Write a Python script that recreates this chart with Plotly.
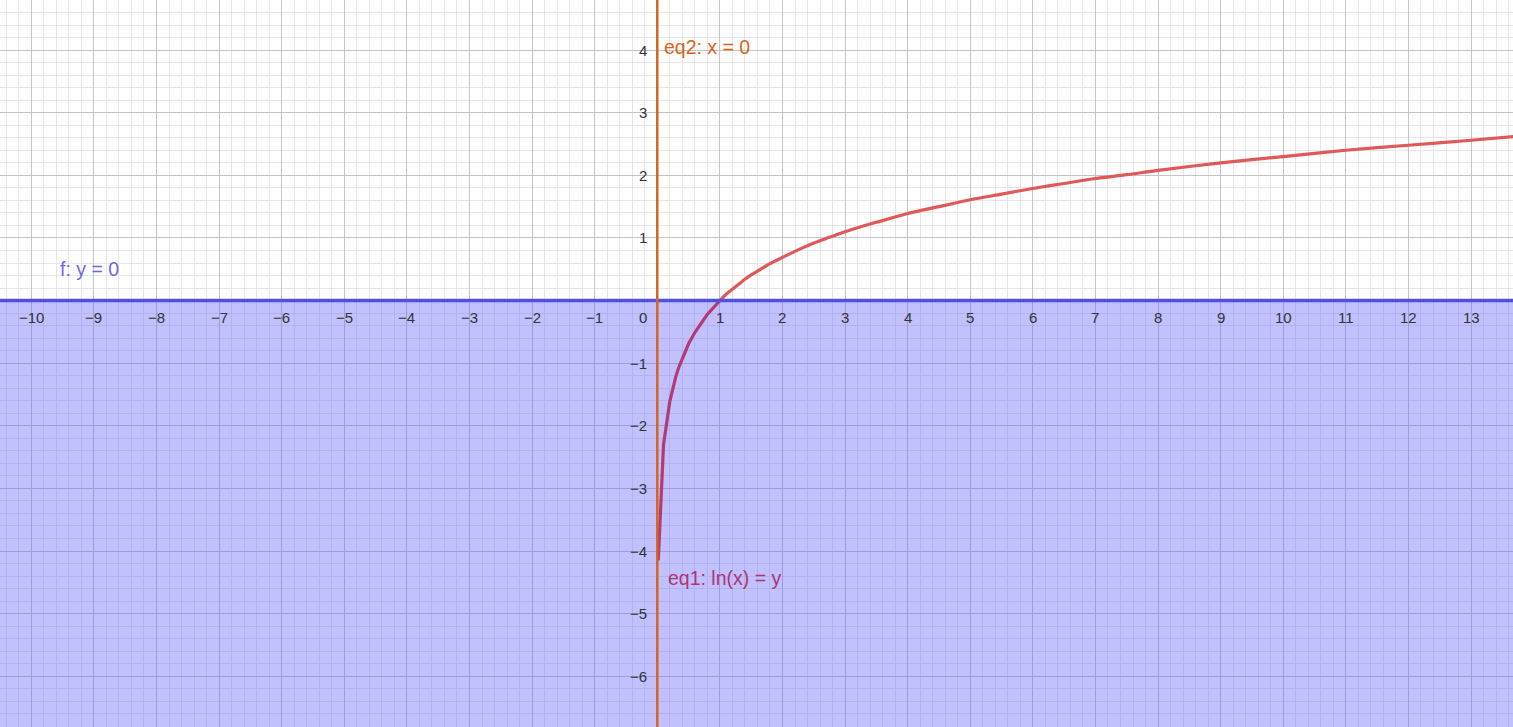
"""
ln(x) = y together with x = 0 and the shaded inequality y < 0, drawn like a GeoGebra graphics view.
"""
import plotly.graph_objects as go

# view window (data units)
X_MIN, X_MAX = -10.5, 13.67
Y_MIN, Y_MAX = -6.81, 4.8

# eq1: ln(x) = y
curve_x = [0.0158, 0.1, 0.2, 0.25, 0.3, 0.35, 0.4, 0.45, 0.5, 0.6, 0.7, 0.8, 0.9, 1.0,
           1.1, 1.2, 1.3, 1.4, 1.5, 1.6, 1.8, 2.0, 2.25, 2.5, 2.75, 3.0, 3.25, 3.5, 4.0,
           4.5, 5.0, 5.5, 6.0, 6.5, 7.0, 7.5, 8.0, 9.0, 10.0, 11.0, 12.0, 13.0, 13.7]
curve_y = [-4.15, -2.30, -1.61, -1.39, -1.20, -1.05, -0.92, -0.80, -0.69, -0.51, -0.36, -0.22, -0.11, 0.0,
           0.10, 0.18, 0.26, 0.34, 0.41, 0.47, 0.59, 0.69, 0.81, 0.92, 1.01, 1.10, 1.18, 1.25, 1.39,
           1.50, 1.61, 1.70, 1.79, 1.87, 1.95, 2.01, 2.08, 2.20, 2.30, 2.40, 2.48, 2.56, 2.62]

# axis tick labels
x_ticks = [-10, -9, -8, -7, -6, -5, -4, -3, -2, -1, 1, 2, 3, 4, 5, 6, 7, 8, 9, 10, 11, 12, 13]
y_ticks = [-6, -5, -4, -3, -2, -1, 1, 2, 3, 4]
x_tick_labels = [str(v).replace("-", "\u2212") for v in x_ticks]
y_tick_labels = [str(v).replace("-", "\u2212") for v in y_ticks]

# object labels
labels = ["f: y = 0", "eq2: x = 0", "eq1: ln(x) = y"]
label_x = [-9.58, 0.08, 0.14]
label_y = [0.50, 4.05, -4.43]
label_colors = ["rgb(110,106,222)", "rgb(214,100,30)", "rgb(176,52,114)"]

BLUE = "rgb(80,80,228)"
ORANGE = "rgb(214,100,30)"
RED = "rgb(224,88,88)"
MAGENTA = "rgb(180,58,118)"

FONT = "Liberation Sans, Arial, sans-serif"

fig = go.Figure()

# f: y < 0 region
fig.add_trace(go.Scatter(x=[X_MIN - 1, X_MAX + 1, X_MAX + 1, X_MIN - 1],
                         y=[0, 0, Y_MIN - 1, Y_MIN - 1],
                         fill="toself", fillcolor="rgba(100,100,255,0.4)",
                         mode="lines", line=dict(width=0), hoverinfo="skip"))

# eq1, split where it crosses y = 0 (x = 1)
split = curve_x.index(1.0)
fig.add_trace(go.Scatter(x=curve_x[:split + 1], y=curve_y[:split + 1], mode="lines",
                         line=dict(color=MAGENTA, width=3.2), hoverinfo="skip"))
fig.add_trace(go.Scatter(x=curve_x[split:], y=curve_y[split:], mode="lines",
                         line=dict(color=RED, width=3.2, shape="spline", smoothing=0.8),
                         hoverinfo="skip"))

# f: y = 0 boundary
fig.add_trace(go.Scatter(x=[X_MIN - 1, X_MAX + 1], y=[0, 0], mode="lines",
                         line=dict(color=BLUE, width=3.5), hoverinfo="skip"))

# eq2: x = 0
fig.add_trace(go.Scatter(x=[0, 0], y=[Y_MIN - 1, Y_MAX + 1], mode="lines",
                         line=dict(color=ORANGE, width=2.5), hoverinfo="skip"))

tick_font = dict(family=FONT, size=15, color="#333333")
for v, t in zip(x_ticks, x_tick_labels):
    fig.add_annotation(x=v, y=0, text=t, showarrow=False, xanchor="center",
                       yanchor="middle", yshift=-17, font=tick_font)
for v, t in zip(y_ticks, y_tick_labels):
    fig.add_annotation(x=0, y=v, text=t, showarrow=False, xanchor="right",
                       yanchor="middle", xshift=-8, font=tick_font)
fig.add_annotation(x=0, y=0, text="0", showarrow=False, xanchor="right",
                   yanchor="middle", xshift=-8, yshift=-17, font=tick_font)

for t, lx, ly, c in zip(labels, label_x, label_y, label_colors):
    fig.add_annotation(x=lx, y=ly, text=t, showarrow=False, xanchor="left",
                       yanchor="middle", font=dict(family=FONT, size=19.5, color=c))

axis_common = dict(
    showticklabels=False, ticks="", zeroline=False, showline=False,
    dtick=1, tick0=0, showgrid=True, gridcolor="rgb(196,196,196)", gridwidth=1,
    minor=dict(dtick=0.2, tick0=0, showgrid=True, gridcolor="rgb(230,230,230)", gridwidth=1),
    fixedrange=True,
)
fig.update_xaxes(range=[X_MIN, X_MAX], **axis_common)
fig.update_yaxes(range=[Y_MIN, Y_MAX], **axis_common)

fig.update_layout(
    width=1513, height=727,
    margin=dict(l=0, r=0, t=0, b=0),
    plot_bgcolor="white", paper_bgcolor="white",
    showlegend=False,
)

fig.write_html("out.html", config={"displayModeBar": False},
               post_script="document.body.style.margin='0';")
